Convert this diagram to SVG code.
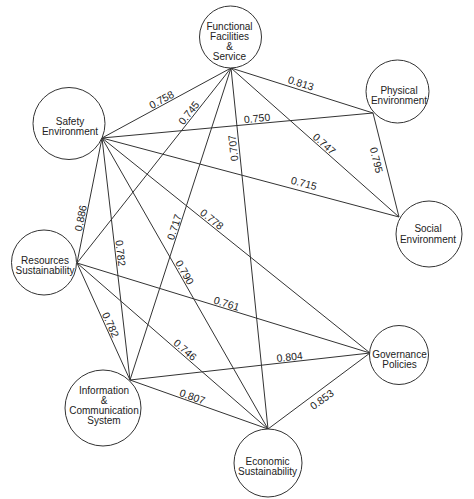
<svg xmlns="http://www.w3.org/2000/svg" width="474" height="499" viewBox="0 0 474 499">
<style>
.node circle{fill:#fff;stroke:#333;stroke-width:1}
.node text{font-family:"Liberation Sans",Arial,sans-serif;font-size:10px;fill:#222;text-anchor:middle}
.edges line{stroke:#333;stroke-width:1}
.lbl{font-family:"Liberation Sans",Arial,sans-serif;font-size:10.5px;fill:#222;text-anchor:middle;dominant-baseline:central}
</style>
<rect width="474" height="499" fill="#fff"/>
<g id="connectors" class="edges">
<line x1="102" y1="138" x2="231" y2="68"/>
<line x1="77" y1="263" x2="231" y2="68"/>
<line x1="130" y1="380" x2="231" y2="68"/>
<line x1="231" y1="68" x2="268" y2="429"/>
<line x1="231" y1="68" x2="373" y2="113"/>
<line x1="231" y1="68" x2="399" y2="217"/>
<line x1="102" y1="138" x2="373" y2="113"/>
<line x1="102" y1="138" x2="399" y2="217"/>
<line x1="102" y1="138" x2="77" y2="263"/>
<line x1="102" y1="138" x2="130" y2="380"/>
<line x1="102" y1="138" x2="268" y2="429"/>
<line x1="102" y1="138" x2="370" y2="353"/>
<line x1="77" y1="263" x2="370" y2="353"/>
<line x1="77" y1="263" x2="130" y2="380"/>
<line x1="77" y1="263" x2="268" y2="429"/>
<line x1="130" y1="380" x2="370" y2="353"/>
<line x1="130" y1="380" x2="268" y2="429"/>
<line x1="268" y1="429" x2="370" y2="353"/>
<line x1="373" y1="113" x2="399" y2="217"/>
<g id="labels">
<text class="lbl" transform="translate(161.4,99.5) rotate(-28.5)">0.758</text>
<text class="lbl" transform="translate(188.6,112.7) rotate(-51.7)">0.745</text>
<text class="lbl" transform="translate(174,226.9) rotate(-72)">0.717</text>
<text class="lbl" transform="translate(232.9,148.2) rotate(-96)">0.707</text>
<text class="lbl" transform="translate(301,83) rotate(17.6)">0.813</text>
<text class="lbl" transform="translate(324.5,143.7) rotate(41.6)">0.747</text>
<text class="lbl" transform="translate(257,118) rotate(-5.3)">0.750</text>
<text class="lbl" transform="translate(304,183) rotate(14.9)">0.715</text>
<text class="lbl" transform="translate(80.4,218) rotate(-78.7)">0.886</text>
<text class="lbl" transform="translate(120.9,253.1) rotate(83.4)">0.782</text>
<text class="lbl" transform="translate(184.9,272.2) rotate(60.3)">0.790</text>
<text class="lbl" transform="translate(212.1,219.1) rotate(38.7)">0.778</text>
<text class="lbl" transform="translate(226.7,303.3) rotate(17)">0.761</text>
<text class="lbl" transform="translate(110.9,324.6) rotate(65.6)">0.782</text>
<text class="lbl" transform="translate(185.3,349.7) rotate(41)">0.746</text>
<text class="lbl" transform="translate(289.6,356.6) rotate(-6.4)">0.804</text>
<text class="lbl" transform="translate(192.4,396.4) rotate(19.6)">0.807</text>
<text class="lbl" transform="translate(321.7,399.3) rotate(-36.7)">0.853</text>
<text class="lbl" transform="translate(376.7,160) rotate(76)">0.795</text>
</g>
</g>
<g id="node-functional" class="node">
<circle cx="230.5" cy="37" r="31"/>
<text x="229.5" y="29.5">Functional</text>
<text x="229.5" y="39.5">Facilities</text>
<text x="229.5" y="49.5">&amp;</text>
<text x="229.5" y="59.5">Service</text>
</g>
<g id="node-physical" class="node">
<circle cx="397.5" cy="91.5" r="31.5"/>
<text x="399" y="93.5">Physical</text>
<text x="399" y="103.5">Environment</text>
</g>
<g id="node-safety" class="node">
<circle cx="69" cy="123.5" r="36"/>
<text x="70" y="125">Safety</text>
<text x="70" y="135">Environment</text>
</g>
<g id="node-social" class="node">
<circle cx="429" cy="234" r="33"/>
<text x="428" y="232">Social</text>
<text x="428" y="242.5">Environment</text>
</g>
<g id="node-resources" class="node">
<circle cx="44" cy="262.5" r="32.5"/>
<text x="45" y="264">Resources</text>
<text x="45" y="274">Sustainability</text>
</g>
<g id="node-governance" class="node">
<circle cx="399" cy="355" r="29.5"/>
<text x="399.5" y="357.5">Governance</text>
<text x="399.5" y="367.5">Policies</text>
</g>
<g id="node-information" class="node">
<circle cx="103" cy="408" r="38"/>
<text x="104" y="394">Information</text>
<text x="104" y="404">&amp;</text>
<text x="104" y="414">Communication</text>
<text x="104" y="424">System</text>
</g>
<g id="node-economic" class="node">
<circle cx="268" cy="463" r="34"/>
<text x="267.5" y="465">Economic</text>
<text x="267.5" y="475">Sustainability</text>
</g>
</svg>
